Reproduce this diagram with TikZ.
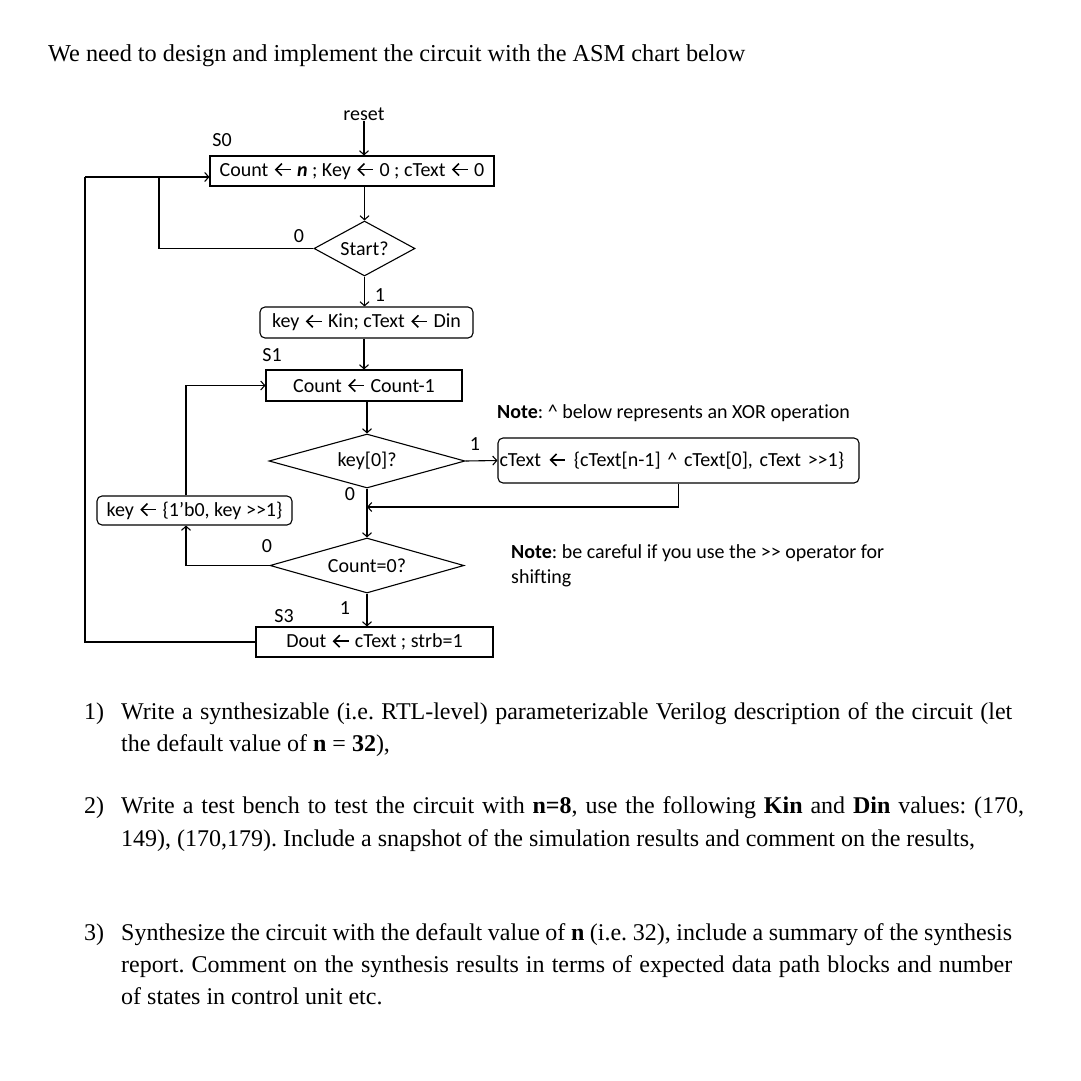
\documentclass[tikz,border=0pt]{standalone}
\usepackage{fontspec}
\setmainfont{Liberation Serif}
\newfontfamily\calf[Ligatures=NoCommon]{Carlito}
\usetikzlibrary{shapes.geometric,arrows.meta}
\newcommand{\lar}{\hspace{1pt}\tikz[baseline=-0.5pt]\draw[line width=1.6pt, {Straight Barb[length=6pt,width=12pt,line width=1.6pt]}-] (0,6pt) -- (16pt,6pt);\hspace{1pt}}
\tikzset{
  cf/.style={font=\calf\fontsize{20}{24}\selectfont},
  box/.style={draw, line width=1.1pt, inner sep=0pt, cf},
  rbox/.style={box, rounded corners=5pt},
  dia/.style={draw, diamond, line width=1.1pt, inner sep=0pt},
  lbl/.style={cf, inner sep=0pt},
  txt/.style={font=\fontsize{24}{28}\selectfont, anchor=base west, inner sep=0pt},
  conn/.style={line width=1.1pt},
  >={Straight Barb[length=4pt,width=9pt]}
}
\frenchspacing
\begin{document}
\begin{tikzpicture}[x=1pt,y=-1pt]
\useasboundingbox (0,0) rectangle (1080,1081);
\fill[white] (0,0) rectangle (1080,1081);

% header text
\node[txt, font=\fontsize{24.3}{28}\selectfont] (hdr) at (48,62) {We need to design and implement the circuit with the ASM chart below};

% ASM chart
\node[lbl] (reset) at (364,114) {reset};
\node[lbl] (lS0) at (222,140) {S0};
\node[box, minimum width=284pt, minimum height=30pt] (s0) at (352,171) {Count \lar{} \textbf{\textit{n}} ; Key \lar{} 0 ; cText \lar{} 0};
\node[dia, minimum width=101pt, minimum height=55pt] (start) at (364.5,248.5) {};
\node[lbl] at (start.center) {Start?};
\node[lbl] (l0a) at (299,236) {0};
\node[lbl] (l1a) at (380,295) {1};
\node[rbox, minimum width=213pt, minimum height=31pt] (b2) at (366.5,322.5) {key \lar{} Kin; cText \lar{} Din};
\node[lbl] (lS1) at (272,355) {S1};
\node[box, minimum width=196pt, minimum height=31pt] (b3) at (364,385.5) {Count \lar{} Count-1};
\node[dia, minimum width=196pt, minimum height=54pt] (k0) at (367,461) {};
\node[lbl] at (k0.center) {key[0]?};
\node[lbl] (l1b) at (475,444) {1};
\node[rbox, minimum width=361pt, minimum height=45pt, text width=358pt, align=left] (b4) at (678.5,460.5) {cText \lar{} \{cText[n-1] \^{} cText[0], cText >{}>1\}};
\node[lbl] (l0b) at (350,494) {0};
\node[rbox, minimum width=195pt, minimum height=29pt] (b5) at (194.5,510.5) {key \lar{} \{1’b0, key >{}>1\}};
\node[dia, minimum width=194pt, minimum height=55pt] (c0) at (367,565.5) {};
\node[lbl] at (c0.center) {Count=0?};
\node[lbl] (l0c) at (267,546) {0};
\node[lbl] (l1c) at (345,608) {1};
\node[lbl] (lS3) at (284,616) {S3};
\node[box, minimum width=237pt, minimum height=30pt] (b6) at (374.5,642) {Dout \lar{} cText ; strb=1};

\node[lbl, anchor=west] (n1) at (497,413) {\textbf{Note}: \^{} below represents an XOR operation};
\node[lbl, anchor=west] (n2) at (511,553) {\textbf{Note}: be careful if you use the >{}> operator for};
\node[lbl, anchor=west] (n3) at (511,578) {shifting};

\coordinate (inL) at (159,177);
\coordinate (outL) at (85,177);
\coordinate (ret) at (367,507);

\draw[conn,->] (reset) -- (reset |- s0.north);
\draw[conn,->] (start.north |- s0.south) -- (start.north);
\draw[conn] (start.west) -| (inL);
\draw[conn,->] (outL) -- (inL -| s0.west);
\draw[conn,->] (start.south) -- (start.south |- b2.north);
\draw[conn,->] (b3.north |- b2.south) -- (b3.north);
\draw[conn,->] (k0.north |- b3.south) -- (k0.north);
\draw[conn,->] (k0.east) -- (b4.west);
\draw[conn,->] (b4.south) |- (ret);
\draw[conn,->] (k0.south) -- (c0.north);
\draw[conn,->] (c0.west) -| ([xshift=-8.5pt]b5.south);
\draw[conn,->] ([xshift=-8.5pt]b5.north) |- (b3.west);
\draw[conn,->] (c0.south) -- (c0.south |- b6.north);
\draw[conn] (b6.west) -| (outL);

% questions
\node[txt] (q1n) at (84,719) {1)};
\node[txt] (q1a) at (121,719) {\makebox[891pt][s]{Write a synthesizable (i.e. RTL-level) parameterizable Verilog description of the circuit (let}};
\node[txt] (q1b) at (121,751) {the default value of \textbf{n} = \textbf{32}),};
\node[txt] (q2n) at (84,813) {2)};
\node[txt] (q2a) at (121,813) {\makebox[903pt][s]{Write a test bench to test the circuit with \textbf{n=8}, use the following \textbf{Kin} and \textbf{Din} values: (170,}};
\node[txt] (q2b) at (121,846) {149), (170,179). Include a snapshot of the simulation results and comment on the results,};
\node[txt] (q3n) at (84,940) {3)};
\node[txt] (q3a) at (121,940) {\makebox[891pt][s]{Synthesize the circuit with the default value of \textbf{n} (i.e. 32), include a summary of the synthesis}};
\node[txt] (q3b) at (121,972) {\makebox[891pt][s]{report. Comment on the synthesis results in terms of expected data path blocks and number}};
\node[txt] (q3c) at (121,1004) {of states in control unit etc.};
\end{tikzpicture}
\end{document}
